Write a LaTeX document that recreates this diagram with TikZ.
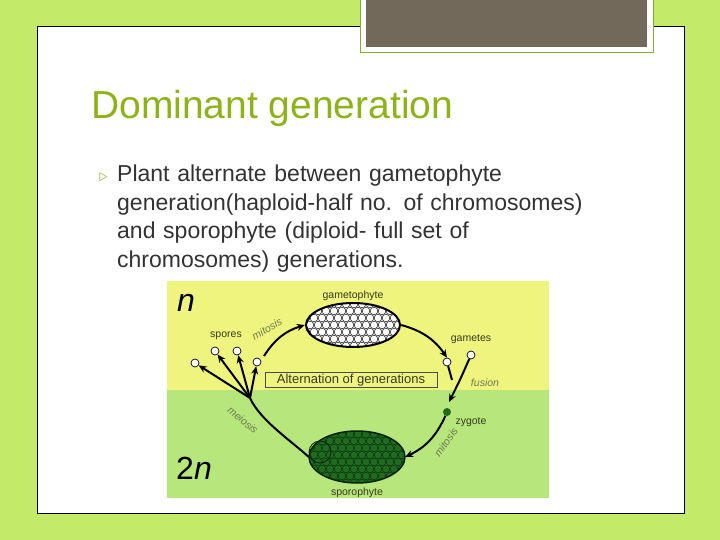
\documentclass[tikz,border=0pt]{standalone}
\usepackage{fontspec}
\setmainfont{Liberation Sans}
\usetikzlibrary{arrows.meta,shapes.geometric}
\definecolor{bgg}{HTML}{C4EA6A}
\definecolor{tit}{HTML}{8DB319}
\definecolor{tab}{HTML}{73695A}
\definecolor{tabo}{HTML}{7FAF2E}
\definecolor{yel}{HTML}{EEF47E}
\definecolor{lgr}{HTML}{B6E67C}
\definecolor{dgr}{HTML}{1F6B1F}
\definecolor{lab}{HTML}{3A3A20}
\definecolor{gl}{HTML}{6E7A50}
\begin{document}
\begin{tikzpicture}[x=1pt,y=-1pt,
  cell/.style={circle,draw=black,fill=white,inner sep=0pt,minimum size=8pt,line width=0.7pt},
  arr/.style={line width=2pt,-{Stealth[length=8pt,width=7pt]}},
  lbl/.style={font=\fontsize{10.5}{12}\selectfont,text=lab},
  itl/.style={font=\fontsize{10.5}{12}\selectfont\itshape,text=gl}]
\useasboundingbox (0,0) rectangle (720,540);
\fill[bgg] (0,0) rectangle (720,540);
\fill[white,draw=black,line width=0.8pt] (37,26) rectangle (684,513);
\fill[white,draw=tabo,line width=1pt] (360,-2) rectangle (653,53);
\fill[tab] (366,-2) rectangle (647,47);
\node[anchor=west,text=tit,font=\fontsize{39}{44}\selectfont,inner sep=0pt] (title) at (91,108) {Dominant generation};
\node[anchor=west,text=tit,font=\fontsize{16}{18}\selectfont,inner sep=0pt] (bul) at (99,177) {$\triangleright$};
\node[anchor=north west,text=black!80,font=\fontsize{23}{28.5}\selectfont,text width=560pt,align=left,inner sep=0pt] (body) at (117,165)
 {Plant alternate between gametophyte\\generation(haploid-half no. of chromosomes)\\and sporophyte (diploid- full set of\\chromosomes) generations.};
% diagram
\fill[yel] (167,281) rectangle (549,390);
\fill[lgr] (167,390) rectangle (549,498);
\node[font=\fontsize{32}{32}\selectfont\itshape] (n) at (186,303) {n};
\node[font=\fontsize{32}{32}\selectfont] (nn) at (194,468) {2\textit{n}};
\node[draw=black!70,fill=yel,font=\fontsize{13}{14}\selectfont,text=lab,minimum width=172pt,minimum height=15pt,inner sep=1pt] (box) at (351,380) {Alternation of generations};
% gametophyte
\node[ellipse,minimum width=96pt,minimum height=46pt] (gam) at (353,325) {};
\fill[white!85!black] (353,325) ellipse (47 and 22);
\begin{scope}
\clip (353,325) ellipse (47 and 22);
\foreach \i in {0,...,12}{\foreach \j in {0,...,6}{
 \draw[fill=white,line width=0.4pt] ({306+\i*8+mod(\j,2)*4},{304+\j*7}) circle (3.8);}}
\end{scope}
\draw[line width=2pt] (353,325) ellipse (47 and 22);
% sporophyte
\node[ellipse,minimum width=96pt,minimum height=52pt] (spo) at (357,457) {};
\fill[dgr] (357,457) ellipse (48 and 26);
\begin{scope}
\clip (357,457) ellipse (48 and 26);
\foreach \i in {0,...,12}{\foreach \j in {0,...,7}{
 \draw[draw=black!50!dgr,line width=0.5pt] ({310+\i*8+mod(\j,2)*4},{434+\j*7}) circle (3.8);}}
\end{scope}
\draw[line width=1.5pt,black!70!dgr] (357,457) ellipse (48 and 26);
\draw[line width=0.8pt,black!70!dgr] (320,452) circle (11);
% cells
\node[cell] (s1) at (195,363) {};
\node[cell] (s2) at (215,351) {};
\node[cell] (s3) at (237,351) {};
\node[cell] (s4) at (257,362) {};
\node[cell] (g1) at (447,362) {};
\node[cell] (g2) at (471,355) {};
\node[circle,fill=dgr,inner sep=0pt,minimum size=8pt] (z) at (447,412) {};
% labels
\node[lbl] (lg) at (353,296) {gametophyte};
\node[lbl] (lsp) at (226,336) {spores};
\node[lbl] (lga) at (471,339) {gametes};
\node[lbl] (lz) at (471,422) {zygote};
\node[lbl] (ls) at (357,493) {sporophyte};
\node[itl] (lf) at (485,383) {fusion};
\node[itl,rotate=30] (lm1) at (267,329) {mitosis};
\node[itl,rotate=-40] (lme) at (243,420) {meiosis};
\node[itl,rotate=55] (lm2) at (446,442) {mitosis};
% arrows
\coordinate (br) at (250,398);
\draw[line width=2pt] (spo.west) .. controls (290,440) and (260,420) .. (br);
\draw[arr] (br) -- (s1);
\draw[arr] (br) -- (s2);
\draw[arr] (br) -- (s3);
\draw[arr] (br) -- (s4);
\draw[arr] (264,356) to[bend left=20] (gam.west);
\draw[arr] (gam.east) to[bend left=20] (g1.north);
\draw[line width=2pt] (g1) -- (452,380);
\draw[arr] (g2) .. controls (460,380) .. (449,402);
\draw[arr] (z) to[bend left=20] (spo.east);
\end{tikzpicture}
\end{document}
